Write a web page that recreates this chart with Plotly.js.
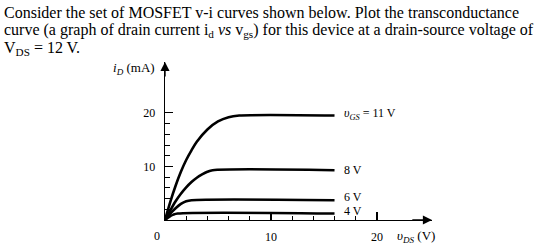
<!DOCTYPE html>
<html><head><meta charset="utf-8">
<script src="https://cdn.plot.ly/plotly-3.0.1.min.js"></script>
<style>html,body{margin:0;padding:0;background:#fff;}#chart{width:551px;height:244px;}</style>
</head><body><div id="chart"></div>
<script>
// Data (v_DS in V, i_D in mA)
const vds11 = [0, 0.5, 1, 1.5, 2, 2.5, 3, 4, 5, 6, 7, 16];
const id11  = [0, 3.4, 6.4, 9.0, 11.2, 13.0, 14.6, 16.9, 18.4, 19.2, 19.5, 19.5];
const vds8  = [0, 0.5, 1, 1.5, 2, 2.5, 3, 3.5, 4, 4.5, 16];
const id8   = [0, 1.8, 3.5, 4.9, 6.1, 7.1, 7.9, 8.5, 9.0, 9.3, 9.3];
const vds6  = [0, 0.5, 1, 1.5, 2, 2.5, 16];
const id6   = [0, 1.2, 2.2, 3.0, 3.5, 3.7, 3.7];
const vds4  = [0, 0.4, 0.8, 1.2, 16];
const id4   = [0, 0.6, 1.0, 1.2, 1.2];
const curveLabels = ['<i>υ<sub>GS</sub></i> = 11 V', '8 V', '6 V', '4 V'];
const xTickVals = [10, 20], xTickText = ['10', '20'];
const yTickVals = [10, 20], yTickText = ['10', '20'];
const xMinor = [2, 4, 6, 8, 12, 14, 16, 18];
const yMinor = [2, 4, 6, 8, 12, 14, 16, 18];
const titleLines = [
  'Consider the set of MOSFET v-i curves shown below. Plot the transconductance',
  'curve (a graph of drain current i<sub>d</sub> <i>vs</i> v<sub>gs</sub>) for this device at a drain-source voltage of',
  'V<sub>DS</sub> = 12 V.'
];

const L = 165, T = 62, B = 24, W = 551, H = 244;
const XMAX = 25.2, YMAX = 29.5;
const R = W - L - XMAX * 10.6;
const pw = W - L - R, ph = H - T - B;
const Xp = px => (px - L) / pw;
const Yp = py => (H - B - py) / ph;
const serif = 'Liberation Serif';

const line = {color: '#000', width: 2.6, shape: 'spline', smoothing: 0.9};
const traces = [[vds11, id11], [vds8, id8], [vds6, id6], [vds4, id4]].map(([x, y]) => ({
  x, y, type: 'scatter', mode: 'lines', line, hoverinfo: 'skip', cliponaxis: false
}));

const ann = [];
titleLines.forEach((t, i) => ann.push({
  text: t, xref: 'paper', yref: 'paper', x: Xp(2), y: Yp(13 + i * 17.5),
  xanchor: 'left', yanchor: 'middle', showarrow: false,
  font: {family: serif, size: 16, color: '#000'}
}));
// curve labels (pixel rows)
const labPy = [114, 170, 197, 211];
curveLabels.forEach((t, i) => ann.push({
  text: t, x: Xp(342), y: Yp(labPy[i]), xref: 'paper', yref: 'paper',
  xanchor: 'left', yanchor: 'middle', showarrow: false,
  font: {family: serif, size: 12, color: '#000'}
}));
// axis titles
ann.push({text: '<i>i<sub>D</sub></i> (mA)', xref: 'paper', yref: 'paper', x: Xp(157), y: Yp(68),
  xanchor: 'right', yanchor: 'middle', showarrow: false, font: {family: serif, size: 13, color: '#000'}});
ann.push({text: '<i>υ<sub>DS</sub></i> (V)', xref: 'paper', yref: 'paper', x: Xp(395), y: Yp(236),
  xanchor: 'left', yanchor: 'middle', showarrow: false, font: {family: serif, size: 13, color: '#000'}});
ann.push({text: '0', xref: 'paper', yref: 'paper', x: Xp(157), y: Yp(236),
  xanchor: 'center', yanchor: 'middle', showarrow: false, font: {family: serif, size: 12, color: '#000'}});
// arrowheads
ann.push({x: XMAX, y: 0, ax: XMAX - 2, ay: 0, xref: 'x', yref: 'y', axref: 'x', ayref: 'y',
  showarrow: true, arrowhead: 2, arrowsize: 1.3, arrowwidth: 1.4, arrowcolor: '#000', text: ''});
ann.push({x: 0, y: YMAX, ax: 0, ay: YMAX - 3, xref: 'x', yref: 'y', axref: 'x', ayref: 'y',
  showarrow: true, arrowhead: 2, arrowsize: 1.3, arrowwidth: 1.4, arrowcolor: '#000', text: ''});

const layout = {
  width: W, height: H, margin: {l: L, r: R, t: T, b: B},
  paper_bgcolor: '#fff', plot_bgcolor: '#fff', showlegend: false,
  xaxis: {range: [0, XMAX], showgrid: false, zeroline: false, showline: true, linecolor: '#000', linewidth: 1.4,
    tickvals: xTickVals, ticktext: xTickText, ticks: 'inside', ticklen: 8, tickwidth: 1.2, tickcolor: '#000',
    minor: {tickvals: xMinor, ticks: 'inside', ticklen: 4, tickwidth: 1, tickcolor: '#000'},
    tickfont: {family: serif, size: 12, color: '#000'}, ticklabelstandoff: 5, fixedrange: true},
  yaxis: {range: [0, YMAX], showgrid: false, zeroline: false, showline: true, linecolor: '#000', linewidth: 1.4,
    tickvals: yTickVals, ticktext: yTickText, ticks: 'inside', ticklen: 8, tickwidth: 1.2, tickcolor: '#000',
    minor: {tickvals: yMinor, ticks: 'inside', ticklen: 5, tickwidth: 1, tickcolor: '#000'},
    tickfont: {family: serif, size: 12, color: '#000'}, ticklabelstandoff: 6, fixedrange: true},
  annotations: ann
};
Plotly.newPlot('chart', traces, layout, {staticPlot: true, displayModeBar: false});
</script></body></html>
